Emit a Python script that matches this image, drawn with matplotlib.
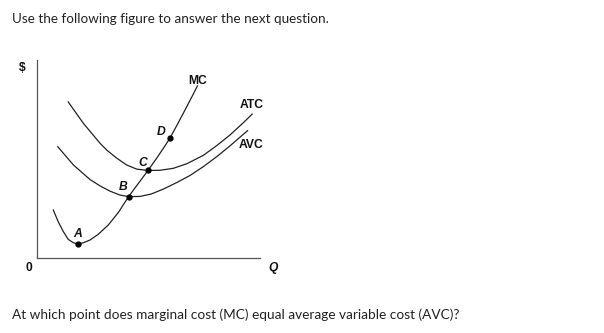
import matplotlib
matplotlib.use("Agg")
import matplotlib.pyplot as plt

# curve values (Q, $ in arbitrary 0-10 units)
mc_q = [0.72, 0.94, 1.17, 1.39, 1.62, 1.81, 2.07, 2.37, 2.74, 3.19, 3.64,
        4.10, 4.54, 4.97, 5.36, 5.66, 5.96, 6.33, 6.71, 7.00, 7.19]
mc_p = [2.42, 1.83, 1.33, 0.94, 0.77, 0.71, 0.77, 0.91, 1.20, 1.67, 2.30,
        3.10, 3.77, 4.42, 5.04, 5.54, 6.06, 6.83, 7.64, 8.27, 8.69]

atc_q = [1.39, 2.07, 2.82, 3.12, 3.57, 4.01, 4.46, 4.97, 5.51, 6.11, 6.71,
         7.45, 8.06, 8.65, 9.25, 9.65]
atc_p = [7.88, 6.80, 5.79, 5.45, 5.04, 4.70, 4.49, 4.42, 4.43, 4.53, 4.76,
         5.18, 5.68, 6.21, 6.83, 7.27]

avc_q = [0.92, 1.62, 2.37, 2.82, 3.26, 3.71, 4.10, 4.61, 5.11, 5.66, 6.26,
         6.86, 7.45, 8.06, 8.65, 9.10, 9.44]
avc_p = [5.62, 4.70, 3.96, 3.64, 3.38, 3.18, 3.10, 3.11, 3.23, 3.48, 3.81,
         4.17, 4.61, 5.12, 5.66, 6.10, 6.43]

point_names = ["A", "B", "C", "D"]
point_q = [1.81, 4.10, 4.97, 5.96]
point_p = [0.71, 3.10, 4.42, 6.06]

W, H = 604, 333
fig = plt.figure(figsize=(W / 100, H / 100), dpi=100)

qfont = ["Lato", "DejaVu Sans"]
fig.text(12 / W, 1 - 19 / H, "Use the following figure to answer the next question.",
         fontsize=9.75, family=qfont, color="#222222", va="center")
fig.text(12 / W, 1 - 315 / H,
         "At which point does marginal cost (MC) equal average variable cost (AVC)?",
         fontsize=9.8, family=qfont, color="#222222", va="center")

# plot area: origin at (37.3, 258) px, 222.7 px wide, 198 px tall
ax = fig.add_axes([37.3 / W, (H - 258) / H, 222.7 / W, 198 / H])
ax.set_xlim(0, 10)
ax.set_ylim(0, 10)
for side in ["top", "right"]:
    ax.spines[side].set_visible(False)
for side in ["left", "bottom"]:
    ax.spines[side].set_color("#555555")
    ax.spines[side].set_linewidth(0.9)
ax.set_xticks([])
ax.set_yticks([])
ax.patch.set_alpha(0)

line_kw = dict(color="#222222", lw=0.9, solid_joinstyle="round")
ax.plot(mc_q, mc_p, **line_kw)
ax.plot(atc_q, atc_p, **line_kw)
ax.plot(avc_q, avc_p, **line_kw)
ax.plot(point_q, point_p, "o", color="black", ms=3.5, zorder=5)

lab = dict(family=["Liberation Sans", "DejaVu Sans"], fontweight="bold",
           fontsize=8.7, color="#111111")
ax.text(7.18, 8.95, "MC", ha="center", va="center", **lab)
ax.text(9.62, 7.75, "ATC", ha="center", va="center", **lab)
ax.text(9.62, 5.7, "AVC", ha="center", va="center", **lab)

offsets = [(0.0, 0.48), (-0.25, 0.5), (-0.22, 0.4), (-0.4, 0.3)]
for name, q, p, (dq, dp) in zip(point_names, point_q, point_p, offsets):
    ax.text(q + dq, p + dp, name, ha="center", va="center",
            fontstyle="italic", **lab)

ax.text(-0.7, 9.6, "$", ha="center", va="center", clip_on=False, **lab)
ax.text(-0.37, -0.5, "0", ha="center", va="center", clip_on=False, **lab)
ax.text(10.58, -0.5, "Q", ha="center", va="center", fontstyle="italic",
        clip_on=False, **lab)

fig.savefig("out.png", dpi=100)
